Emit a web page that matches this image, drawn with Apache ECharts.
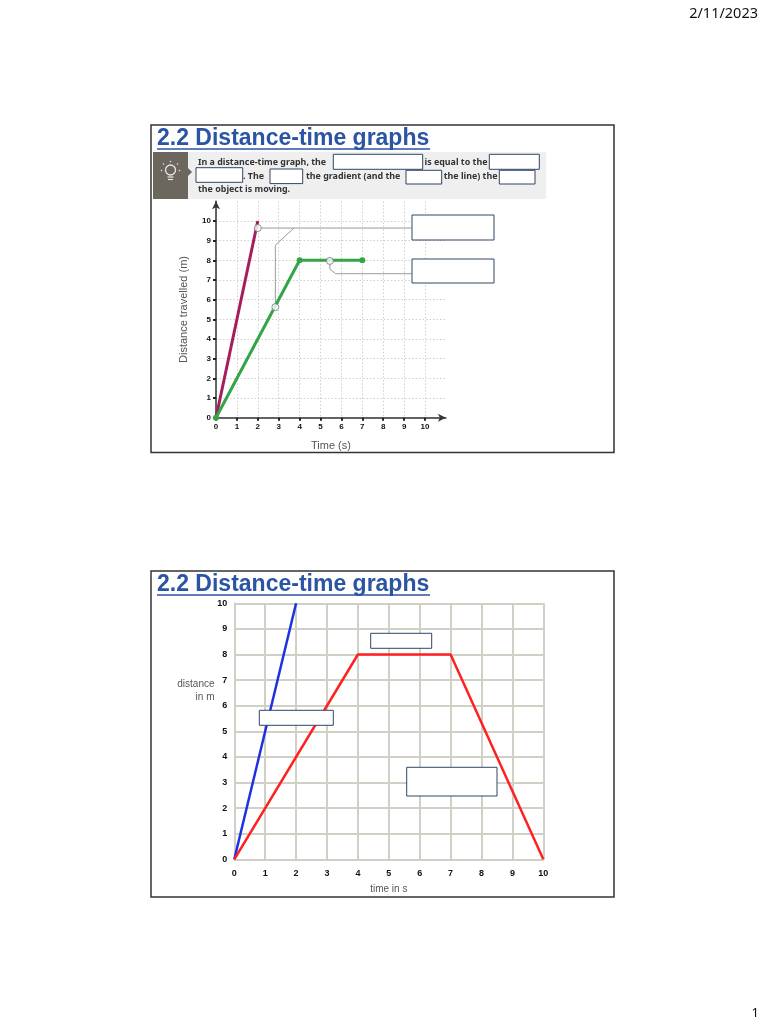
<!DOCTYPE html>
<html>
<head>
<meta charset="utf-8">
<script src="https://cdn.jsdelivr.net/npm/echarts@6/dist/echarts.min.js"></script>
<style>html,body{margin:0;padding:0;background:#fff}#c{width:768px;height:1024px}</style>
</head>
<body>
<div id="c"></div>
<script>
// ---- data ----
var ticks = [0,1,2,3,4,5,6,7,8,9,10];
// slide 1 (distance travelled vs time)
var pinkLine = [[0,0],[2,10]];
var greenLine = [[0,0],[4,8],[7,8]];
var connectorA = [[2.0,9.64],[9.36,9.64]];
var connectorB = [[2.84,5.62],[2.84,8.77],[3.73,9.64]];
var connectorC = [[5.45,7.97],[5.45,7.55],[5.73,7.32],[9.36,7.32]];
var openPoints = [[2.0,9.64],[2.84,5.62],[5.45,7.97]];
// slide 2
var blueLine = [[0,0],[2,10]];
var redLine = [[0,0],[4,8],[7,8],[10,0]];
var titleText = '2.2 Distance-time graphs';

var chart = echarts.init(document.getElementById('c'), null, {renderer:'canvas'});
var TBLUE = '#2b54a3';
var BOXS = '#2f4666';

function box(x,y,w,h,lw){
  return {type:'rect', z:100, shape:{x:x,y:y,width:w,height:h}, style:{fill:'#fff', stroke:BOXS, lineWidth:lw||1}};
}
function txt(x,y,s,opt){
  opt = opt||{};
  return {type:'text', z:101, x:x, y:y, style:{text:s, fill:opt.fill||'#333', font:opt.font||'bold 8.9px "Noto Sans"', align:opt.align||'left', verticalAlign:'middle'}};
}

var graphics = [
  // slide frames
  {type:'rect', z:-10, shape:{x:151,y:125,width:463,height:327.5}, style:{fill:'#fff', stroke:'#333', lineWidth:1.5}},
  {type:'rect', z:-10, shape:{x:151,y:571,width:463,height:326}, style:{fill:'#fff', stroke:'#333', lineWidth:1.5}},
  // titles
  txt(157,139,titleText,{font:'bold 23px "Liberation Sans"', fill:TBLUE}),
  {type:'line', z:101, shape:{x1:157,y1:149,x2:430,y2:149}, style:{stroke:TBLUE, lineWidth:1.5}},
  txt(157,584.5,titleText,{font:'bold 23px "Liberation Sans"', fill:TBLUE}),
  {type:'line', z:101, shape:{x1:157,y1:595,x2:430,y2:595}, style:{stroke:TBLUE, lineWidth:1.5}},
  // info band
  {type:'rect', z:-5, shape:{x:153,y:152,width:393,height:47}, style:{fill:'#efefef'}},
  {type:'rect', z:-4, shape:{x:153,y:152,width:35,height:47}, style:{fill:'#6b665e'}},
  {type:'polygon', z:-4, shape:{points:[[188,168],[192,172],[188,176]]}, style:{fill:'#6b665e'}},
  // lightbulb icon
  {type:'circle', z:-3, shape:{cx:170.5,cy:170,r:5}, style:{fill:'none', stroke:'#e8e6e0', lineWidth:1.3}},
  {type:'line', z:-3, shape:{x1:167.5,y1:177,x2:173.5,y2:177}, style:{stroke:'#e8e6e0', lineWidth:1.2}},
  {type:'line', z:-3, shape:{x1:168,y1:179.5,x2:173,y2:179.5}, style:{stroke:'#e8e6e0', lineWidth:1.2}},
  {type:'circle', z:-3, shape:{cx:170.5,cy:161.5,r:0.8}, style:{fill:'#e8e6e0'}},
  {type:'circle', z:-3, shape:{cx:163.5,cy:164,r:0.8}, style:{fill:'#e8e6e0'}},
  {type:'circle', z:-3, shape:{cx:177.5,cy:164,r:0.8}, style:{fill:'#e8e6e0'}},
  {type:'circle', z:-3, shape:{cx:161.5,cy:170.5,r:0.8}, style:{fill:'#e8e6e0'}},
  {type:'circle', z:-3, shape:{cx:179.5,cy:170.5,r:0.8}, style:{fill:'#e8e6e0'}},
  // band text
  txt(198,162,'In a distance-time graph, the'),
  box(333.3,154.3,89.4,15),
  txt(424.5,162,'is equal to the'),
  box(489.3,154.3,50,15),
  box(196,167.7,46.7,14.6),
  txt(243,176,'. The'),
  box(270,169,32.7,14.6),
  txt(306,176,'the gradient (and the'),
  box(406,170.3,35.7,13.7),
  txt(443.7,176,'the line) the'),
  box(499.3,170.3,35.7,13.7),
  txt(198,189,'the object is moving.'),
  // slide 1 label boxes
  box(412,215,82,25),
  box(412,259,82,24),
  // slide 2 boxes
  box(370.7,633.3,61,15),
  box(259.3,710.3,74,15),
  box(406.7,767.3,90.3,28.7),
  // slide 2 y name
  txt(214.5,684.5,'distance',{font:'10px "Liberation Sans"', fill:'#555', align:'right'}),
  txt(214.5,697,'in m',{font:'10px "Liberation Sans"', fill:'#555', align:'right'}),
  // date & page number
  txt(758,14,'2/11/2023',{font:'14.5px "Noto Sans"', fill:'#111', align:'right'}),
  txt(759,1013,'1',{font:'13px "Noto Sans"', fill:'#111', align:'right'})
];

var ax1Label = {fontSize:8, fontWeight:'bold', color:'#111', fontFamily:'Liberation Sans', customValues:ticks};
var ax1Tick = {show:true, length:3, inside:false, lineStyle:{color:'#222', width:2}, customValues:ticks};
var ax1Split = {show:true, lineStyle:{color:'#cfcfcf', width:1, type:[1.5,2]}};
var ax1Line = {show:true, symbol:['none','arrow'], symbolSize:[6,8], lineStyle:{color:'#333', width:1.5}};

var ax2Label = {fontSize:9, fontWeight:'bold', color:'#111', fontFamily:'Liberation Sans'};
var ax2Split = {show:true, lineStyle:{color:'#d0d0c6', width:2}};
var ax2Line = {show:true, lineStyle:{color:'#d0d0c6', width:2}};

var option = {
  animation:false,
  backgroundColor:'#fff',
  graphic: graphics,
  grid:[
    {left:216, top:201.3, width:229.9, height:216.4, containLabel:false, outerBoundsMode:'none'},
    {left:234.3, top:603.3, width:309, height:256, containLabel:false, outerBoundsMode:'none'}
  ],
  xAxis:[
    {gridIndex:0, type:'value', min:0, max:11, interval:1,
     axisLine:ax1Line, axisTick:ax1Tick, axisLabel:Object.assign({margin:5}, ax1Label), splitLine:ax1Split,
     name:'Time (s)', nameLocation:'middle', nameGap:23,
     nameTextStyle:{fontSize:11, color:'#555', fontFamily:'Liberation Sans'}},
    {gridIndex:1, type:'value', min:0, max:10, interval:1,
     axisLine:ax2Line, axisTick:{show:false}, axisLabel:Object.assign({margin:10}, ax2Label), splitLine:ax2Split,
     name:'time in s', nameLocation:'middle', nameGap:25,
     nameTextStyle:{fontSize:10, color:'#555', fontFamily:'Liberation Sans'}}
  ],
  yAxis:[
    {gridIndex:0, type:'value', min:0, max:11, interval:1,
     axisLine:ax1Line, axisTick:ax1Tick, axisLabel:Object.assign({margin:5}, ax1Label), splitLine:ax1Split,
     name:'Distance travelled (m)', nameLocation:'middle', nameGap:27, nameRotate:90,
     nameTextStyle:{fontSize:11, color:'#555', fontFamily:'Liberation Sans'}},
    {gridIndex:1, type:'value', min:0, max:10, interval:1,
     axisLine:ax2Line, axisTick:{show:false}, axisLabel:Object.assign({margin:7}, ax2Label), splitLine:ax2Split}
  ],
  series:[
    {type:'line', xAxisIndex:0, yAxisIndex:0, data:connectorA, showSymbol:false, symbol:'none', lineStyle:{color:'#9a9a9a', width:1}, z:3},
    {type:'line', xAxisIndex:0, yAxisIndex:0, data:connectorB, showSymbol:false, symbol:'none', lineStyle:{color:'#9a9a9a', width:1}, z:3},
    {type:'line', xAxisIndex:0, yAxisIndex:0, data:connectorC, showSymbol:false, symbol:'none', lineStyle:{color:'#9a9a9a', width:1}, z:3},
    {type:'line', xAxisIndex:0, yAxisIndex:0, data:pinkLine, symbol:'none', lineStyle:{color:'#a41e5e', width:3}, z:4},
    {type:'line', xAxisIndex:0, yAxisIndex:0, data:greenLine, symbol:'circle', symbolSize:6, showSymbol:true,
     itemStyle:{color:'#34a547'}, lineStyle:{color:'#34a547', width:3}, z:5},
    {type:'scatter', xAxisIndex:0, yAxisIndex:0, data:openPoints, symbol:'circle', symbolSize:7,
     itemStyle:{color:'#fff', borderColor:'#777', borderWidth:1}, z:6},
    {type:'line', xAxisIndex:1, yAxisIndex:1, data:blueLine, symbol:'none', lineStyle:{color:'#1f30e0', width:2.5}, z:4},
    {type:'line', xAxisIndex:1, yAxisIndex:1, data:redLine, symbol:'none', lineStyle:{color:'#ff2020', width:2.5}, z:4}
  ]
};
chart.setOption(option);
</script>
</body>
</html>
